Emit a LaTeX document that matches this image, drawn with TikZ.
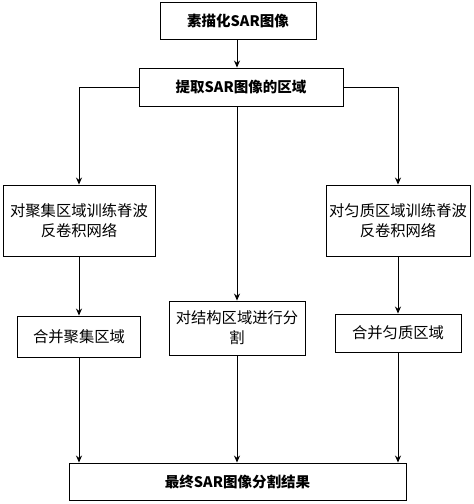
\documentclass[tikz,border=0pt]{standalone}
\usepackage{fontspec}
\newfontfamily\cjk{Noto Sans CJK SC}
\usetikzlibrary{positioning,arrows.meta}

\tikzset{
    box/.style={draw, line width=0.9pt, align=center, inner sep=2pt,
        font=\cjk\fontsize{15.3}{20}\selectfont},
    boldbox/.style={box, font=\cjk\bfseries\fontsize{14.5}{20}\selectfont},
    arr/.style={line width=0.9pt, -{Stealth[length=7pt,width=6pt]}},
    ln/.style={line width=0.9pt}
}

\begin{document}
\begin{tikzpicture}[x=1pt,y=-1pt]
\useasboundingbox (0,0) rectangle (474,504);

% Top of the chart
\node[boldbox, minimum width=156pt, minimum height=37pt] (sketch) at (238,20.5) {素描化SAR图像};
\node[boldbox, minimum width=204pt, minimum height=38pt] (extract) at (241,87) {提取SAR图像的区域};

% Training boxes
\node[box, minimum width=152pt, minimum height=71pt] (trainL) at (79,220.5) {对聚集区域训练脊波\\反卷积网络};
\node[box, minimum width=144pt, minimum height=71pt] (trainR) at (398,220.5) {对匀质区域训练脊波\\反卷积网络};

% Merge and split boxes
\node[box, minimum width=123pt, minimum height=41pt] (mergeL) at (79,336.5) {合并聚集区域};
\node[box, minimum width=136pt, minimum height=54pt] (split) at (237,328) {对结构区域进行分\\割};
\node[box, minimum width=126pt, minimum height=38pt] (mergeR) at (398,333) {合并匀质区域};

% Final result
\node[boldbox, minimum width=337pt, minimum height=37pt] (final) at (237.5,481.5) {最终SAR图像分割结果};

% Connectors
\draw[arr] (sketch.south -| split.north) -- (extract.north -| split.north);
\draw[arr] (extract.west) -| (trainL.north);
\draw[arr] (extract.east) -| (trainR.north);
\draw[arr] (extract.south -| split.north) -- (split.north);
\draw[arr] (trainL.south) -- (mergeL.north);
\draw[arr] (trainR.south) -- (mergeR.north);
\draw[arr] (mergeL.south) -- (mergeL.south |- final.north);
\draw[arr] (split.south) -- (split.south |- final.north);
\draw[arr] (mergeR.south) -- (mergeR.south |- final.north);

\end{tikzpicture}
\end{document}
